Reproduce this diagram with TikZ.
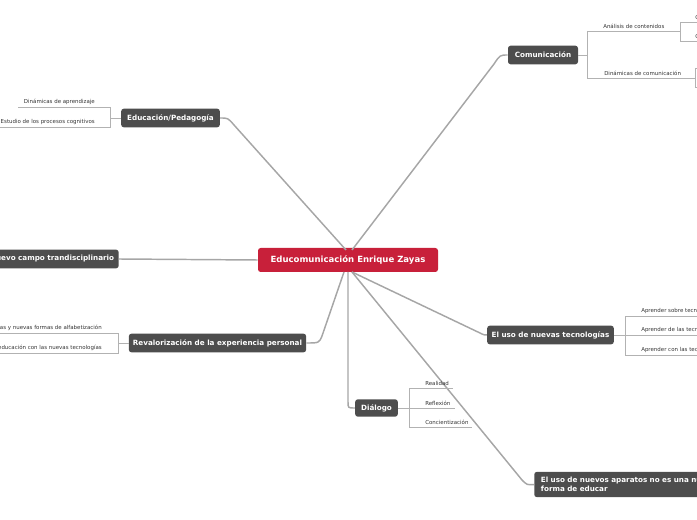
\documentclass[tikz,border=0pt]{standalone}
\usepackage{fontspec}
\setmainfont{DejaVu Sans}
\begin{document}
\begin{tikzpicture}[x=0.75pt,y=-0.75pt,
  topic/.style={fill=darkbox,rounded corners=2pt,text=white,font=\bfseries\fontsize{5.4}{6.5}\selectfont,inner sep=0pt,anchor=center},
  sub/.style={font=\fontsize{4.1}{5}\selectfont,text=black!80,inner sep=0pt},
  conn/.style={draw=gray!70,line width=1.1pt},
  thin/.style={draw=gray!60,line width=0.5pt}]
\definecolor{darkbox}{HTML}{4D4D4D}
\definecolor{redbox}{HTML}{C8203A}
\useasboundingbox (0,0) rectangle (697,520);
\clip (0,0) rectangle (697,520);
% central
\node[fill=redbox,rounded corners=2pt,text=white,font=\bfseries\fontsize{6.4}{8}\selectfont,minimum width=135pt,minimum height=18pt] (c) at (348,260) {Educomunicación Enrique Zayas};
% topics
\node[topic,minimum width=52.5pt,minimum height=14pt] (com) at (543,55) {Comunicación};
\node[topic,minimum width=74pt,minimum height=14pt] (edu) at (170.5,118) {Educación/Pedagogía};
\node[topic,minimum width=100pt,minimum height=14pt,anchor=east] (nue) at (119,259) {Nuevo campo trandisciplinario\hspace{5pt}};
\node[topic,minimum width=133pt,minimum height=14pt] (rev) at (217.5,343) {Revalorización de la experiencia personal};
\node[topic,minimum width=32pt,minimum height=13pt] (dia) at (376.5,408) {Diálogo};
\node[topic,minimum width=95pt,minimum height=14pt] (tec) at (550.5,335) {El uso de nuevas tecnologías};
\node[topic,minimum width=160pt,minimum height=19pt,anchor=west,align=left,text width=160pt] (apa) at (534,484.5) {\hspace*{5pt}El uso de nuevos aparatos no es una nueva\\\hspace*{5pt}forma de educar};
% connectors from centre
\coordinate (c1) at (352,250);
\draw[conn] (c1) -- (494,64) .. controls (500,55) .. (com.west);
\draw[conn] (346,250) -- (234,125) .. controls (228,118) .. (edu.east);
\draw[conn] (c.west) -- (nue.east);
\draw[conn] (344,272) -- (322,336) .. controls (319,343) .. (rev.east);
\draw[conn] (348,272) -- (348,402) .. controls (348,408) .. (dia.west);
\draw[conn] (352,272) -- (480,333) .. controls (484,335) .. (tec.west);
\draw[conn] (352,272) -- (522,480) .. controls (527,485) .. (apa.west);
% Comunicación sub
\coordinate (cb) at (587,55);
\draw[thin] (com.east) -- (cb);
\draw[thin] (587,31) -- (587,78);
\draw[thin] (587,31) -- (680,31); \node[sub,anchor=south west] (a1) at (603,29) {Análisis de contenidos};
\draw[thin] (587,78) -- (695,78); \node[sub,anchor=south west] (a2) at (604,76) {Dinámicas de comunicación};
\draw[thin] (680,22) -- (680,41) -- (697,41); \draw[thin] (680,22) -- (697,22);
\node[sub,anchor=south west] (a3) at (695,20) {C};
\node[sub,anchor=south west] (a4) at (695,39) {C};
\draw[thin] (695,68) -- (695,87) -- (697,87); \draw[thin] (695,68) -- (697,68);
% Educación sub
\draw[thin] (edu.west) -- (110,118);
\draw[thin] (18,107) -- (110,107) -- (110,127) -- (0,127);
\node[sub,anchor=south east] (e1) at (95,105) {Dinámicas de aprendizaje};
\node[sub,anchor=south east] (e2) at (95,125) {Estudio de los procesos cognitivos};
% Revalorización sub
\draw[thin] (rev.west) -- (118,343);
\draw[thin] (0,333) -- (118,333) -- (118,353) -- (0,353);
\node[sub,anchor=south east] (r1) at (102,331) {Viejas y nuevas formas de alfabetización};
\node[sub,anchor=south east] (r2) at (102,351) {La educación con las nuevas tecnologías};
% Diálogo sub
\draw[thin] (dia.east) -- (409,408);
\draw[thin] (453,388) -- (409,388) -- (409,427) -- (472,427);
\draw[thin] (409,408) -- (455,408);
\node[sub,anchor=south west] (d1) at (425,386) {Realidad};
\node[sub,anchor=south west] (d2) at (425,406) {Reflexión};
\node[sub,anchor=south west] (d3) at (425,425) {Concientización};
% tecnologías sub
\draw[thin] (tec.east) -- (625,335);
\draw[thin] (697,316) -- (625,316) -- (625,355) -- (697,355);
\draw[thin] (625,335) -- (697,335);
\node[sub,anchor=south west] (t1) at (641,314) {Aprender sobre tecnologías};
\node[sub,anchor=south west] (t2) at (641,333) {Aprender de las tecnologías};
\node[sub,anchor=south west] (t3) at (641,353) {Aprender con las tecnologías};
\end{tikzpicture}
\end{document}
